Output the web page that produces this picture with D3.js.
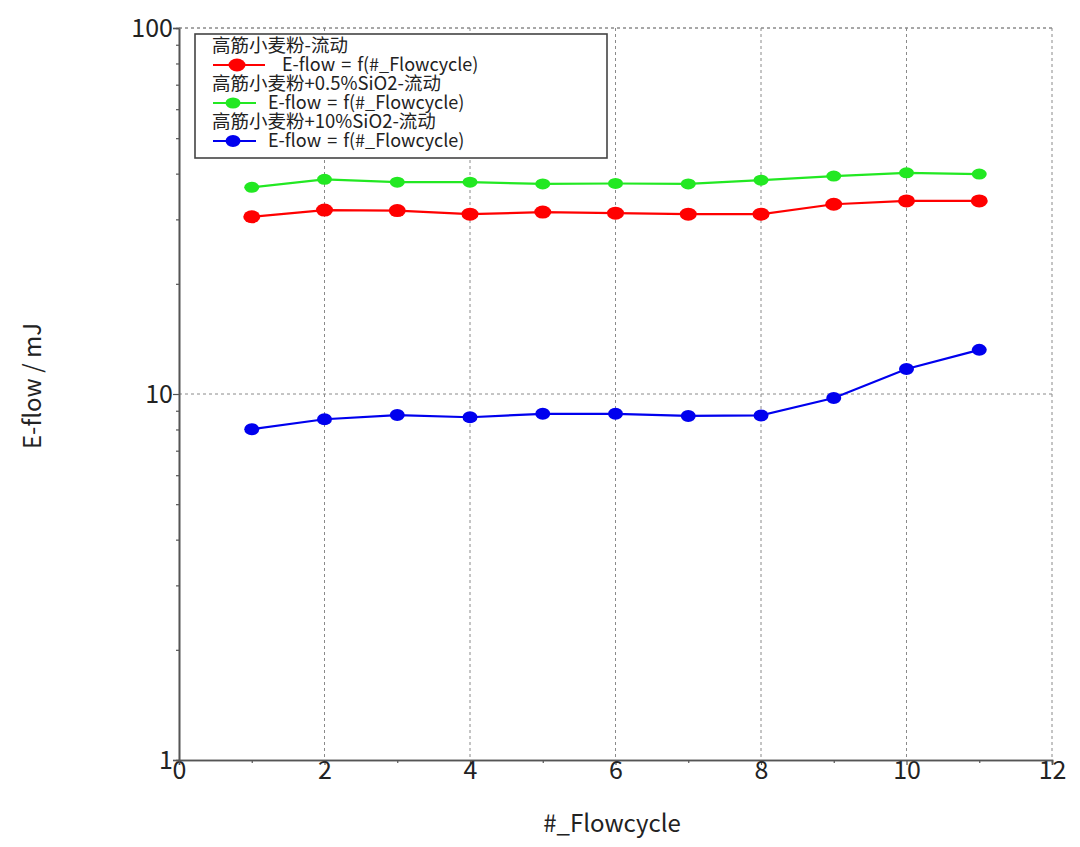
<!DOCTYPE html>
<html>
<head>
<meta charset="utf-8">
<script src="https://cdn.jsdelivr.net/npm/d3@7"></script>
<style>
body{margin:0;background:#fff;}
text{font-family:"Noto Sans CJK SC","Open Sans",sans-serif;fill:#222;}
</style>
</head>
<body>
<svg id="chart" width="1080" height="847"></svg>
<script>
// cycles on x
var cycles = [1,2,3,4,5,6,7,8,9,10,11];
// E-flow values, mJ
var redVals   = [30.5,31.8,31.7,31.0,31.4,31.2,31.0,31.0,33.0,33.7,33.7];
var greenVals = [36.7,38.6,37.9,37.9,37.5,37.6,37.5,38.4,39.4,40.2,39.9];
var blueVals  = [8.01,8.53,8.76,8.64,8.83,8.83,8.71,8.74,9.75,11.7,13.2];
var seriesNames = ['高筋小麦粉-流动','高筋小麦粉+0.5%SiO2-流动','高筋小麦粉+10%SiO2-流动'];
var seriesColors = ['#ff0000','#22e822','#0000ee'];
var xTicks = [0,2,4,6,8,10,12];
var yTicks = [1,10,100];

var svg = d3.select('#chart');
var pLeft = 179, pRight = 1052, pTop = 28, pBottom = 760;

var x = d3.scaleLinear().domain([0,12]).range([pLeft,pRight]);
var y = d3.scaleLog().domain([1,100]).range([pBottom,pTop]);

// grid
var grid = svg.append('g').attr('class','grid');
grid.selectAll('.vg')
    .data(xTicks.slice(1))
    .enter().append('line')
    .attr('x1', d => x(d)).attr('x2', d => x(d))
    .attr('y1', pTop).attr('y2', pBottom)
    .attr('stroke','#8a8a8a').attr('stroke-width',1).attr('stroke-dasharray','3,3');
grid.selectAll('.hg')
    .data(yTicks.slice(1))
    .enter().append('line')
    .attr('x1', pLeft).attr('x2', pRight)
    .attr('y1', d => y(d)).attr('y2', d => y(d))
    .attr('stroke','#8a8a8a').attr('stroke-width',1).attr('stroke-dasharray','3,3');

// x axis
var xAxis = d3.axisBottom(x).tickValues(xTicks).tickSize(5).tickFormat(d3.format('d'));
var gx = svg.append('g')
    .attr('class','axis')
    .attr('transform','translate(0,' + pBottom + ')')
    .call(xAxis);
gx.selectAll('text').style('font-size','25px').attr('dy','0.55em').attr('y',5);
var xMinor = d3.axisBottom(x).tickValues([1,3,5,7,9,11]).tickSize(3).tickFormat('');
svg.append('g').attr('class','axis')
    .attr('transform','translate(0,' + pBottom + ')')
    .call(xMinor);

// y axis
var yAxis = d3.axisLeft(y).tickValues(yTicks).tickSize(6).tickFormat(d3.format('d'));
var gy = svg.append('g')
    .attr('class','axis')
    .attr('transform','translate(' + pLeft + ',0)')
    .call(yAxis);
gy.selectAll('text').style('font-size','25px').attr('x',-6).attr('dy','0.32em');
var minorY = [];
[1,10].forEach(function(dec){ for (var k=2;k<10;k++) minorY.push(dec*k); });
svg.append('g').attr('class','axis')
    .attr('transform','translate(' + pLeft + ',0)')
    .call(d3.axisLeft(y).tickValues(minorY).tickSize(3).tickFormat(''));

svg.selectAll('.axis path').attr('stroke','#555').attr('stroke-width',1.6);
svg.selectAll('.axis line').attr('stroke','#555').attr('stroke-width',1.2);
svg.selectAll('.axis text').style('fill','#222').style('font-family','"Noto Sans CJK SC","Open Sans",sans-serif');

// top border (dotted)
svg.append('line').attr('x1',pLeft).attr('x2',pRight).attr('y1',pTop).attr('y2',pTop)
    .attr('stroke','#8a8a8a').attr('stroke-dasharray','3,3');

// axis labels
svg.append('text')
    .attr('x',612).attr('y',832)
    .style('text-anchor','middle').style('font-size','24px')
    .text('#_Flowcycle');
svg.append('text')
    .attr('transform','translate(41,386) rotate(-90)')
    .style('text-anchor','middle').style('font-size','24px')
    .text('E-flow / mJ');

// series
var allVals = [redVals, greenVals, blueVals];
var markerSize = [[8.5,6.5],[7.5,5.5],[7.5,6]];
var line = d3.line().x((d,i) => x(cycles[i])).y(d => y(d));
allVals.forEach(function(vals, s){
    svg.append('path')
        .datum(vals)
        .attr('d', line)
        .attr('fill','none')
        .attr('stroke', seriesColors[s])
        .attr('stroke-width', 2.2);
    svg.selectAll('.m' + s)
        .data(vals)
        .enter().append('ellipse')
        .attr('class','m' + s)
        .attr('cx', (d,i) => x(cycles[i]))
        .attr('cy', d => y(d))
        .attr('rx', markerSize[s][0]).attr('ry', markerSize[s][1])
        .attr('fill', seriesColors[s]);
});

// legend
var lg = svg.append('g').attr('class','legend');
lg.append('rect')
    .attr('x',195).attr('y',34).attr('width',412).attr('height',124)
    .attr('fill','#fff').attr('stroke','#444').attr('stroke-width',1.6);
var lineEnd = [265,256,256], markX = [237,233,233], textX = [282,268,268];
seriesNames.forEach(function(name, s){
    var yy = 46 + s*38;
    lg.append('text').attr('x',212).attr('y',yy).attr('dy','0.35em')
        .style('font-size','18.5px').text(name);
    var y2 = yy + 19;
    lg.append('line').attr('x1',213).attr('x2',lineEnd[s]).attr('y1',y2).attr('y2',y2)
        .attr('stroke',seriesColors[s]).attr('stroke-width',2.2);
    lg.append('ellipse').attr('cx',markX[s]).attr('cy',y2)
        .attr('rx',markerSize[s][0]).attr('ry',markerSize[s][1])
        .attr('fill',seriesColors[s]);
    lg.append('text').attr('x',textX[s]).attr('y',y2).attr('dy','0.35em')
        .style('font-size','18px').style('word-spacing','2px').text('E-flow = f(#_Flowcycle)');
});
</script>
</body>
</html>
